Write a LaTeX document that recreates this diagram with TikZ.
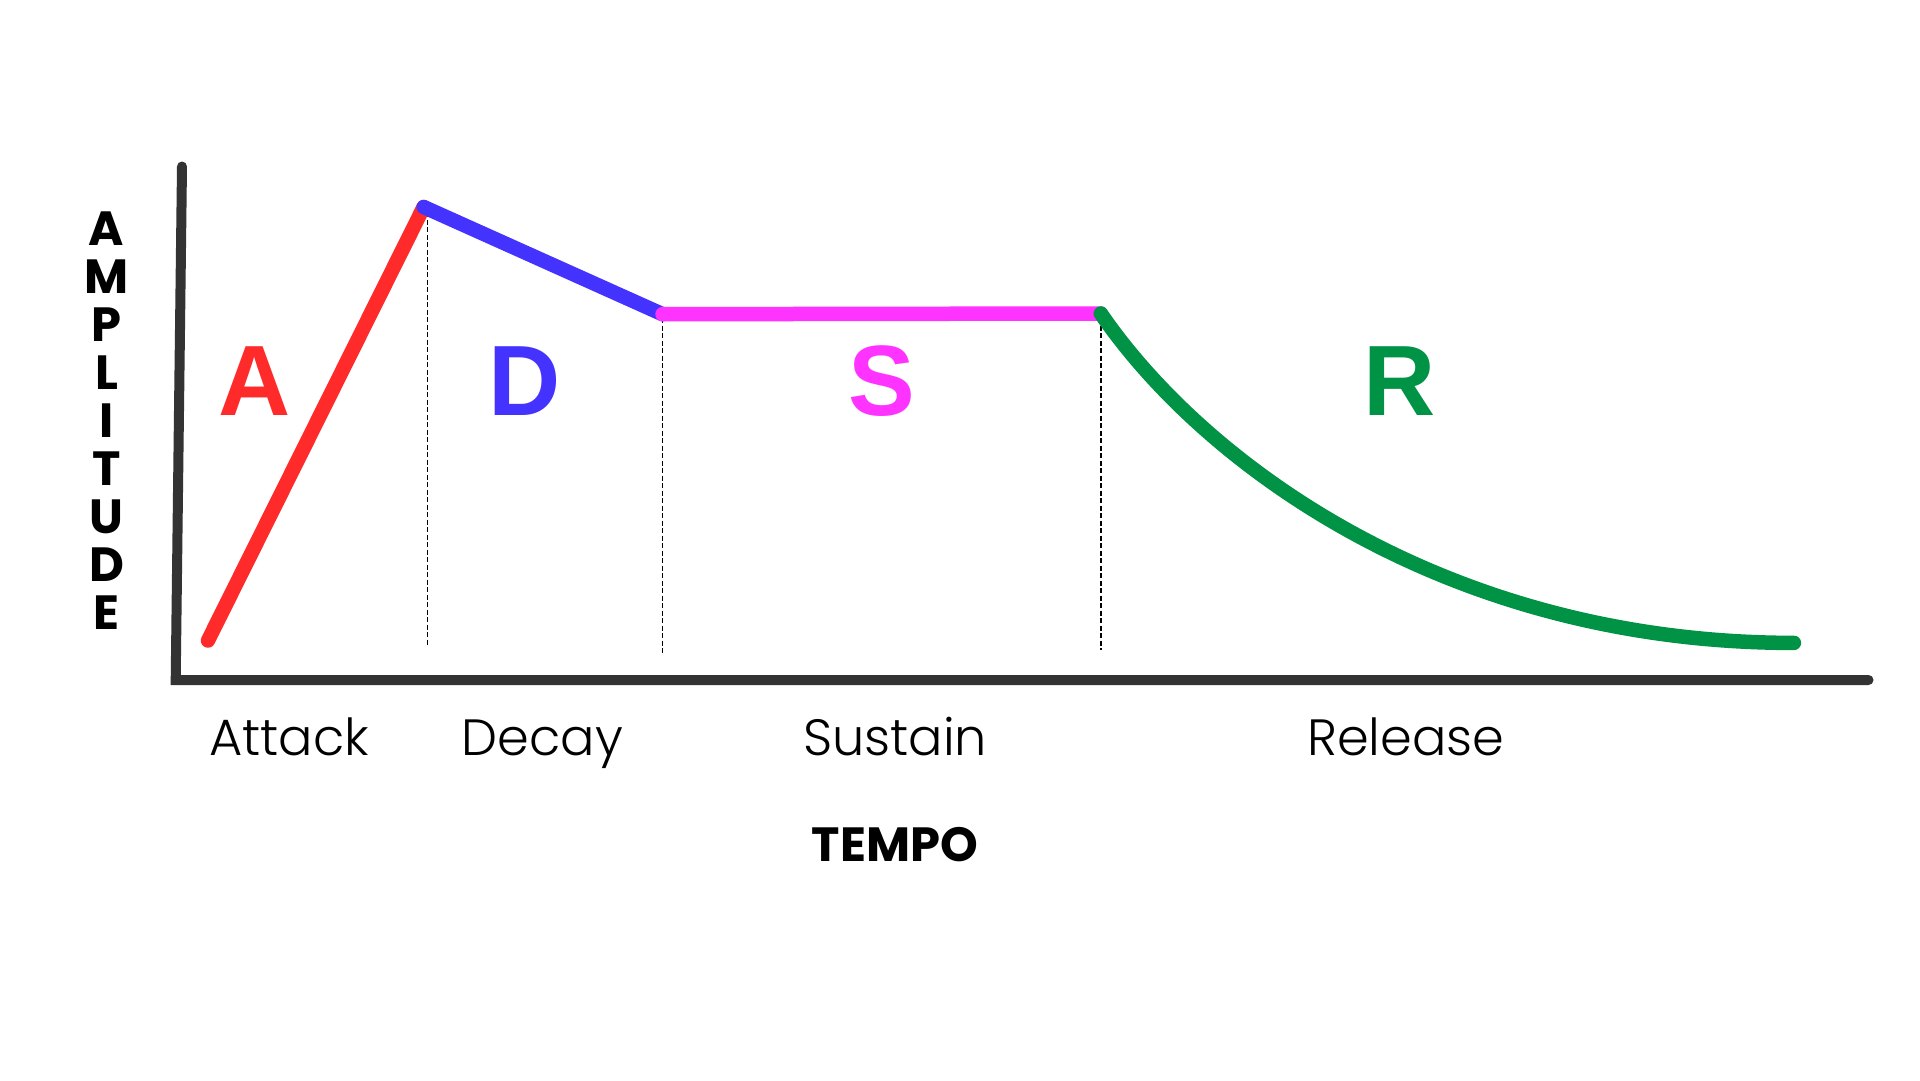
\documentclass[tikz,border=0pt]{standalone}
\usepackage{fontspec}
\setmainfont{Poppins}
\newfontfamily\labelfont{Poppins Light}
\newfontfamily\arialfont{Liberation Sans}
\definecolor{axisgray}{HTML}{333333}
\definecolor{envred}{HTML}{FF2B2B}
\definecolor{envblue}{HTML}{4433FF}
\definecolor{envmag}{HTML}{FF33FF}
\definecolor{envgreen}{HTML}{009245}
\begin{document}
\begin{tikzpicture}[x=1pt,y=-1pt,
  axis/.style={line width=10pt, draw=axisgray, line cap=round, line join=miter},
  env/.style={line width=14.5pt, line cap=round},
  guide/.style={line width=1.8pt, dash pattern=on 5pt off 2.5pt},
  phase/.style={font=\arialfont\bfseries\fontsize{100}{100}\selectfont, anchor=base, inner sep=0pt},
  lab/.style={font=\labelfont\fontsize{51}{51}\selectfont, anchor=base, inner sep=0pt},
  ttl/.style={font=\bfseries\fontsize{48}{48}\selectfont, anchor=base, inner sep=0pt}]
\useasboundingbox[fill=white] (0,0) rectangle (1920,1080);
% axes
\coordinate (ytop) at (182,166.5);
\coordinate (origin) at (175.7,680);
\coordinate (xend) at (1868.5,680);
\draw[axis] (ytop) -- (origin) -- (xend);
% envelope points
\coordinate (start) at (208,640.5);
\coordinate (peak) at (423.7,207);
\coordinate (sus) at (662.5,314.2);
\coordinate (rel) at (1100.8,313.5);
\coordinate (finish) at (1793.9,642.9);
% guides
\coordinate (g1t) at (427.4,212); \coordinate (g1b) at (427.4,645.3);
\coordinate (g2t) at (662.5,318);   \coordinate (g2b) at (662.5,655);
\coordinate (g3t) at (1100.8,318);  \coordinate (g3b) at (1100.8,650);
\draw[guide] (g1t) -- (g1b);
\draw[guide] (g2t) -- (g2b);
\draw[guide] (g3t) -- (g3b);
% envelope
\draw[env, envred] (start) -- (peak);
\draw[env, envblue] (peak) -- (sus);
\draw[env, envmag] (sus) -- (rel);
\draw[env, envgreen] (rel) .. controls (1204.8,464.9) and (1447.4,642.9) .. (finish);
% phase letters
\node[phase, text=envred] (lA) at (254.7,415) {A};
\node[phase, text=envblue] (lD) at (525,415) {D};
\node[phase, text=envmag] (lS) at (881.6,415) {S};
\node[phase, text=envgreen] (lR) at (1399.6,415) {R};
% phase labels
\node[lab] (tA) at (289,755) {Attack};
\node[lab] (tD) at (542.5,755) {Decay};
\node[lab] (tS) at (895,755) {Sustain};
\node[lab] (tR) at (1405.7,755) {Release};
% axis titles
\node[ttl] (tempo) at (895,861) {TEMPO};
\foreach \l [count=\i] in {A,M,P,L,I,T,U,D,E}
  \node[ttl] (amp\i) at ({106.5},{245+48*(\i-1)}) {\l};
\end{tikzpicture}
\end{document}
